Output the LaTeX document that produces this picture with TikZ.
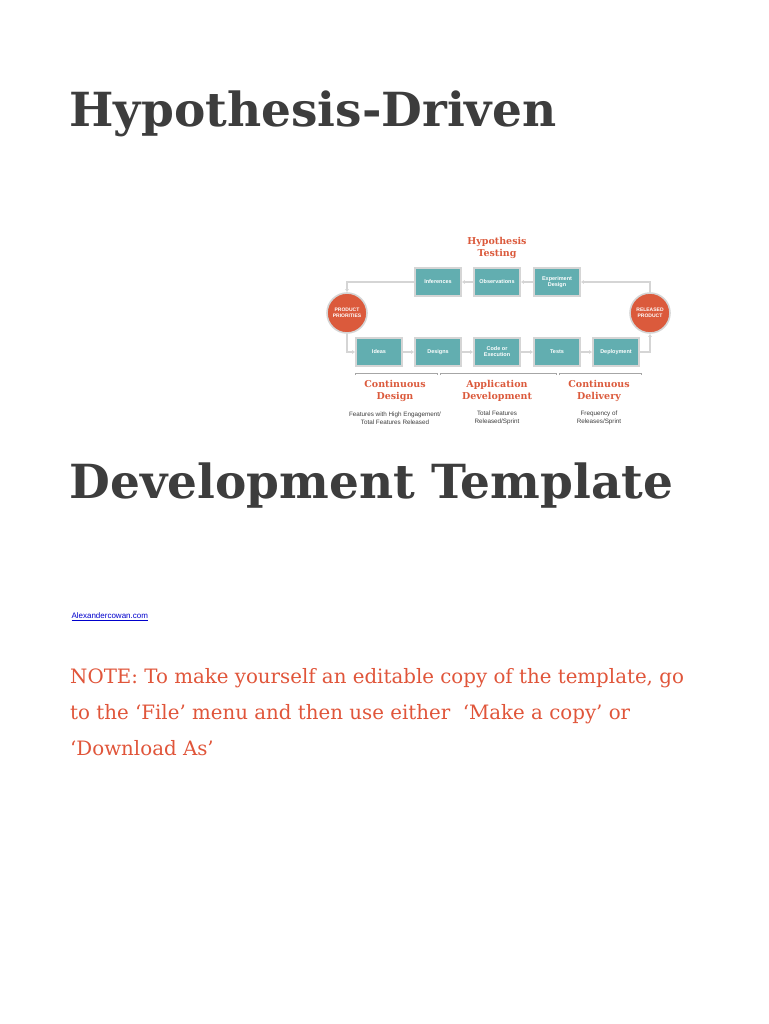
\documentclass[tikz,border=0pt]{standalone}
\usepackage{fontspec}
\setmainfont{DejaVu Serif}
\newfontfamily\sansf{Liberation Sans}
\usepackage{xcolor}
\usetikzlibrary{arrows.meta}
\definecolor{titlegray}{HTML}{3D3D3D}
\definecolor{noteorange}{HTML}{E0553A}
\definecolor{teal}{HTML}{62AEB0}
\definecolor{boxedge}{HTML}{D5D5D5}
\definecolor{circred}{HTML}{DB5A3C}
\begin{document}
\begin{tikzpicture}[x=1pt,y=-1pt,
 bx/.style={draw=boxedge,line width=1.6pt,fill=teal,minimum width=46pt,minimum height=28pt,inner sep=1pt,text=white,font=\sansf\bfseries\fontsize{5.5}{6}\selectfont,align=center},
 circ/.style={circle,draw=boxedge,line width=1.6pt,fill=circred,minimum size=40pt,inner sep=0pt,text=white,font=\sansf\bfseries\fontsize{5}{6}\selectfont,align=center},
 conn/.style={draw=boxedge,line width=1.4pt,-{Latex[length=3pt,width=4pt]}},
 lab/.style={text=circred,font=\bfseries\fontsize{9.5}{12}\selectfont,align=center},
 sub/.style={text=titlegray,font=\sansf\fontsize{6.3}{8}\selectfont,align=center},
 brk/.style={draw=gray!70,line width=0.6pt}]
\useasboundingbox (0,0) rectangle (768,1024);
\node[anchor=west,text=titlegray,font=\bfseries\fontsize{47}{52}\selectfont] (t1) at (66,114) {Hypothesis-Driven};
\node[anchor=west,text=titlegray,font=\bfseries\fontsize{47}{52}\selectfont] (t2) at (66,486) {Development Template};
\node[anchor=west,text=blue!80!black,font=\sansf\fontsize{8}{10}\selectfont] (lk) at (68,617) {\underline{Alexandercowan.com}};
\node[anchor=north west,text=noteorange,font=\fontsize{19.8}{36}\selectfont,align=left,inner sep=0pt] (note) at (70,668) {NOTE: To make yourself an editable copy of the template, go\\to the ‘File’ menu and then use either\ \ ‘Make a copy’ or\\‘Download As’};
% diagram
\node[bx] (inf) at (438,282) {Inferences};
\node[bx] (obs) at (497,282) {Observations};
\node[bx] (exp) at (557,282) {Experiment\\Design};
\node[bx] (ide) at (379,352) {Ideas};
\node[bx] (des) at (438,352) {Designs};
\node[bx] (cod) at (497,352) {Code or\\Execution};
\node[bx] (tst) at (557,352) {Tests};
\node[bx] (dep) at (616,352) {Deployment};
\node[circ] (pp) at (347,313) {PRODUCT\\PRIORITIES};
\node[circ] (rp) at (650,313) {RELEASED\\PRODUCT};
\draw[conn] (exp) -- (obs);
\draw[conn] (obs) -- (inf);
\draw[conn] (inf.west) -| (pp.north);
\draw[conn] (pp.south) |- (ide.west);
\draw[conn] (ide) -- (des);
\draw[conn] (des) -- (cod);
\draw[conn] (cod) -- (tst);
\draw[conn] (tst) -- (dep);
\draw[conn] (dep.east) -| (rp.south);
\draw[conn] (rp.north) |- (exp.east);
\node[lab] (ht) at (497,248) {Hypothesis\\Testing};
\coordinate (b1) at (355,373); \coordinate (b2) at (437,373);
\coordinate (b3) at (440,373); \coordinate (b4) at (556,373);
\coordinate (b5) at (559,373); \coordinate (b6) at (641,373);
\draw[brk] ([yshift=-2]b1) -- (b1) -- (b2) -- ([yshift=-2]b2);
\draw[brk] ([yshift=-2]b3) -- (b3) -- (b4) -- ([yshift=-2]b4);
\draw[brk] ([yshift=-2]b5) -- (b5) -- (b6) -- ([yshift=-2]b6);
\node[lab] (cd) at (395,391) {Continuous\\Design};
\node[lab] (ad) at (497,391) {Application\\Development};
\node[lab] (cdl) at (599,391) {Continuous\\Delivery};
\node[sub] (s1) at (395,418) {Features with High Engagement/\\Total Features Released};
\node[sub] (s2) at (497,418) {Total Features\\Released/Sprint};
\node[sub] (s3) at (599,418) {Frequency of\\Releases/Sprint};
\end{tikzpicture}
\end{document}
